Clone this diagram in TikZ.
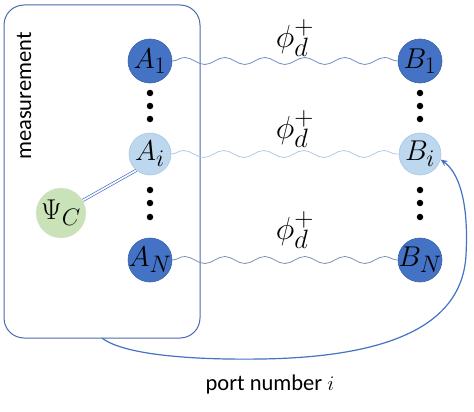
\documentclass[tikz,border=0pt]{standalone}
\usepackage{fontspec}
\setmainfont{Carlito}
\usetikzlibrary{decorations.pathmorphing,arrows.meta}
\definecolor{dkblue}{HTML}{4472C4}
\definecolor{dkborder}{HTML}{3A62AA}
\definecolor{ltblue}{HTML}{BDD7EE}
\definecolor{ltborder}{HTML}{A9C6E4}
\definecolor{ltgreen}{HTML}{C9E2B8}
\definecolor{boxcol}{HTML}{4A6AAE}
\definecolor{wavedark}{HTML}{6F8DC2}
\definecolor{wavelight}{HTML}{AFC8E8}
\definecolor{wavegray}{HTML}{7F90AE}
\newcommand{\qlbl}[1]{\makebox[0pt]{\scalebox{1.15}{$#1$}}}
\newcommand{\plbl}[1]{\scalebox{1.28}{$#1$}}
\tikzset{
  qdark/.style={circle, fill=dkblue, draw=dkborder, line width=0.6pt, minimum size=44pt, inner sep=0pt, font=\Huge},
  qlight/.style={circle, fill=ltblue, draw=ltborder, line width=0.6pt, minimum size=42pt, inner sep=0pt, font=\Huge},
  qgreen/.style={circle, fill=ltgreen, draw=ltgreen!80!black!30, line width=0.4pt, minimum size=50pt, inner sep=0pt, font=\Huge},
  dotn/.style={circle, fill=black, minimum size=6.5pt, inner sep=0pt},
  wave/.style={decorate, decoration={snake, segment length=40pt, amplitude=3.5pt}, line width=0.8pt},
  plabel/.style={font=\Huge, inner sep=0pt},
  txt/.style={font=\fontsize{22.5}{25}\selectfont}
}
\begin{document}
\begin{tikzpicture}[x=1pt,y=-1pt]
\useasboundingbox (0,0) rectangle (474,412);
% measurement box
\node[draw=boxcol, line width=1pt, rounded corners=20pt, minimum width=196pt, minimum height=333pt, inner sep=0pt] (meas) at (102,171.5) {};
\node[txt, rotate=90] (mlabel) at (24,96) {measurement};
% nodes
\node[qdark] (A1) at (150,61) {\qlbl{A_1}};
\node[qlight] (Ai) at (150,154) {\qlbl{A_i}};
\node[qdark] (AN) at (150,260) {\qlbl{A_N}};
\node[qdark] (B1) at (420,61) {\qlbl{B_1}};
\node[qlight] (Bi) at (420,154) {\qlbl{B_i}};
\node[qdark] (BN) at (420,260) {\qlbl{B_N}};
\node[qgreen] (Psi) at (61,213) {\qlbl{\Psi_C}};
% dots
\foreach \x/\n in {150/a,420/b}{
  \node[dotn] (\n1) at (\x,93) {};
  \node[dotn] (\n2) at (\x,106) {};
  \node[dotn] (\n3) at (\x,119) {};
  \node[dotn] (\n4) at (\x,190) {};
  \node[dotn] (\n5) at (\x,203) {};
  \node[dotn] (\n6) at (\x,217) {};
}
% waves
\draw[wave, wavedark] (A1.east) -- (B1.west);
\draw[wave, wavelight] (Ai.east) -- (Bi.west);
\draw[wave, wavegray] (AN.east) -- (BN.west);
% labels
\node[plabel] (p1) at (295,38) {\plbl{\phi_d^+}};
\node[plabel] (p2) at (295,129) {\plbl{\phi_d^+}};
\node[plabel] (p3) at (295,230) {\plbl{\phi_d^+}};
% double line
\draw[dkblue, double, double distance=1.6pt, line width=0.7pt] (Psi.30) -- (Ai.-130);
% curved arrow
\coordinate (s) at (102,338);
\draw[dkblue, line width=1.2pt, -{Stealth[length=7pt,width=6pt]}] (s) .. controls (125,356) and (200,360) .. (262,359) .. controls (380,357) and (462,330) .. (466,255) .. controls (469,200) and (458,172) .. (Bi.-15);
\node[txt] (port) at (270,384) {port number $i$};
\end{tikzpicture}
\end{document}
